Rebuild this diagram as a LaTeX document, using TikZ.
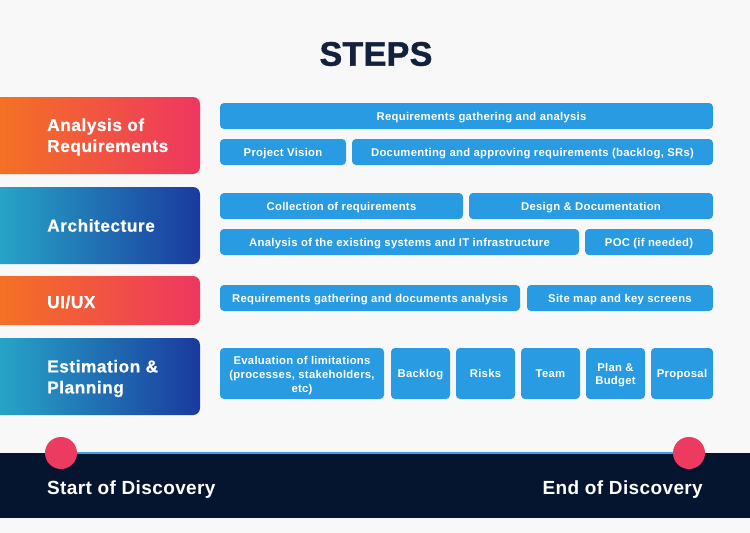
\documentclass[tikz,border=0pt]{standalone}
\usepackage{fontspec}
\setmainfont{Liberation Sans}
\definecolor{bg}{HTML}{F8F8F8}
\definecolor{boxblue}{HTML}{289BE2}
\definecolor{orL}{HTML}{F47421}
\definecolor{orR}{HTML}{EE3760}
\definecolor{blL}{HTML}{27A9C9}
\definecolor{blR}{HTML}{1A3A9E}
\definecolor{navy}{HTML}{06152F}
\definecolor{titlec}{HTML}{14213D}
\definecolor{pinkc}{HTML}{EC3A60}
\definecolor{linec}{HTML}{3BA0E6}
\tikzset{
  boxfont/.style={font=\fontsize{11.3}{13.6}\selectfont\bfseries\addfontfeature{LetterSpace=2.5}},
  sboxm/.style={rectangle, rounded corners=4pt, fill=boxblue, text=white, inner sep=0pt,
    minimum height=26pt, boxfont, align=center},
  sbox/.style={sboxm, text height=8.2pt, text depth=0pt},
  btxt/.style={text=white, inner sep=0pt, boxfont, align=center},
  obox/.style={rectangle, rounded corners=7pt, left color=orL, right color=orR, inner sep=0pt, minimum width=210pt},
  bbox/.style={rectangle, rounded corners=7pt, left color=blL, right color=blR, inner sep=0pt, minimum width=210pt},
  lbl/.style={anchor=west, text=white, inner sep=0pt, align=left, font=\fontsize{17.3}{21}\selectfont\bfseries\addfontfeature{LetterSpace=3,FakeBold=0.6}},
  dot/.style={circle, fill=pinkc, minimum size=32pt, inner sep=0pt},
  foot/.style={text=white, inner sep=0pt, font=\fontsize{19}{22}\selectfont\bfseries\addfontfeature{LetterSpace=2}}
}
\begin{document}
\begin{tikzpicture}[x=1pt,y=-1pt]
\useasboundingbox (0,0) rectangle (750,533);
\clip (0,0) rectangle (750,533);
\fill[bg] (0,0) rectangle (750,533);
\node[text=titlec, font=\fontsize{34}{36}\selectfont\bfseries\addfontfeature{LetterSpace=1,FakeBold=1.5}] (title) at (376,54) {STEPS};

% left category boxes
\node[obox, minimum height=77pt] (c1) at (95,135.5) {};
\node[bbox, minimum height=77pt] (c2) at (95,225.5) {};
\node[obox, minimum height=49pt] (c3) at (95,300.5) {};
\node[bbox, minimum height=77pt] (c4) at (95,376.5) {};
\node[lbl] (l1) at (47,137) {Analysis of\\Requirements};
\node[lbl] (l2) at (47,225.5) {Architecture};
\node[lbl] (l3) at (47,302) {UI/UX};
\node[lbl] (l4) at (47,378.5) {Estimation \&\\Planning};

% row 1
\node[sbox, minimum width=493pt] (r1a) at (466.5,116) {\hspace*{30pt}Requirements gathering and analysis};
\node[sbox, minimum width=126pt] (r1b) at (283,152) {Project Vision};
\node[sbox, minimum width=361pt] (r1c) at (532.5,152) {Documenting and approving requirements (backlog, SRs)};
% row 2
\node[sbox, minimum width=243pt] (r2a) at (341.5,206) {Collection of requirements};
\node[sbox, minimum width=244pt] (r2b) at (591,206) {Design \& Documentation};
\node[sbox, minimum width=359pt] (r2c) at (399.5,242) {Analysis of the existing systems and IT infrastructure};
\node[sbox, minimum width=128pt] (r2d) at (649,242) {POC (if needed)};
% row 3
\node[sbox, minimum width=300pt] (r3a) at (370,298) {Requirements gathering and documents analysis};
\node[sbox, minimum width=186pt] (r3b) at (620,298) {Site map and key screens};
% row 4
\node[sboxm, minimum width=164pt, minimum height=51pt] (r4a) at (302,373.5) {};
\node[btxt] (t4a) at ([yshift=-2pt]r4a.center) {Evaluation of limitations\\(processes, stakeholders,\\etc)};
\node[sbox, minimum width=59pt, minimum height=51pt] (r4b) at (420.5,373.5) {Backlog};
\node[sbox, minimum width=59pt, minimum height=51pt] (r4c) at (485.5,373.5) {Risks};
\node[sbox, minimum width=59pt, minimum height=51pt] (r4d) at (550.5,373.5) {Team};
\node[sboxm, minimum width=59pt, minimum height=51pt] (r4e) at (615.5,373.5) {};
\node[btxt] (t4e) at ([yshift=-1.5pt]r4e.center) {Plan \&\\Budget};
\node[sbox, minimum width=62pt, minimum height=51pt] (r4f) at (682,373.5) {Proposal};

% timeline band
\fill[navy] (0,453) rectangle (750,518);
\node[dot] (s) at (61,453) {};
\node[dot] (e) at (689,453) {};
\draw[linec, line width=2.5pt] (s) -- (e);
\node[foot, anchor=west] (st) at (47,490) {Start of Discovery};
\node[foot, anchor=east] (en) at (703,490) {End of Discovery};
\end{tikzpicture}
\end{document}
